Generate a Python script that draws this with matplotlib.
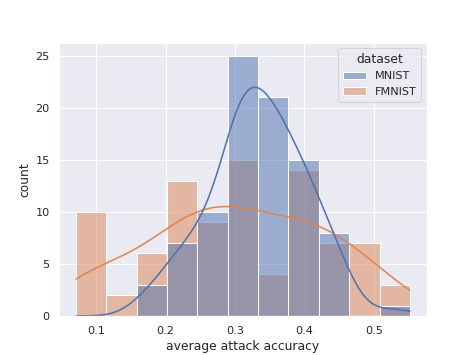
import numpy as np
import pandas as pd
import matplotlib
matplotlib.use('Agg')
import matplotlib.pyplot as plt
import seaborn as sns

sns.set_theme()

# bin range of the histogram (11 bins)
x_min = 0.071
x_max = 0.552
n_bins = 11
edges = np.linspace(x_min, x_max, n_bins + 1)
centers = (edges[:-1] + edges[1:]) / 2

# counts
mnist_counts = [0, 0, 3, 7, 10, 25, 21, 15, 8, 0, 1]
fmnist_counts = [10, 2, 6, 13, 9, 15, 4, 14, 7, 7, 3]

df = pd.DataFrame({
    'average attack accuracy': np.concatenate([centers, centers]),
    'count': mnist_counts + fmnist_counts,
    'dataset': ['MNIST'] * n_bins + ['FMNIST'] * n_bins,
})
df = df[df['count'] > 0]
order = ['MNIST', 'FMNIST']

fig = plt.figure(figsize=(474 / 74, 355 / 74), dpi=74)
ax = plt.gca()
# FMNIST first (underneath), then MNIST with its narrower kde
sns.histplot(data=df[df['dataset'] == 'FMNIST'], x='average attack accuracy',
             weights='count', hue='dataset', hue_order=order,
             bins=n_bins, binrange=(x_min, x_max), legend=False, ax=ax,
             kde=True, kde_kws={'cut': 3, 'clip': (x_min, x_max), 'bw_adjust': 0.7})
sns.histplot(data=df[df['dataset'] == 'MNIST'], x='average attack accuracy',
             weights='count', hue='dataset', hue_order=order,
             bins=n_bins, binrange=(x_min, x_max), ax=ax,
             kde=True, kde_kws={'cut': 3, 'clip': (x_min, x_max), 'bw_adjust': 0.55})
ax.set_ylabel('count')

plt.savefig('out.png', dpi=74)
